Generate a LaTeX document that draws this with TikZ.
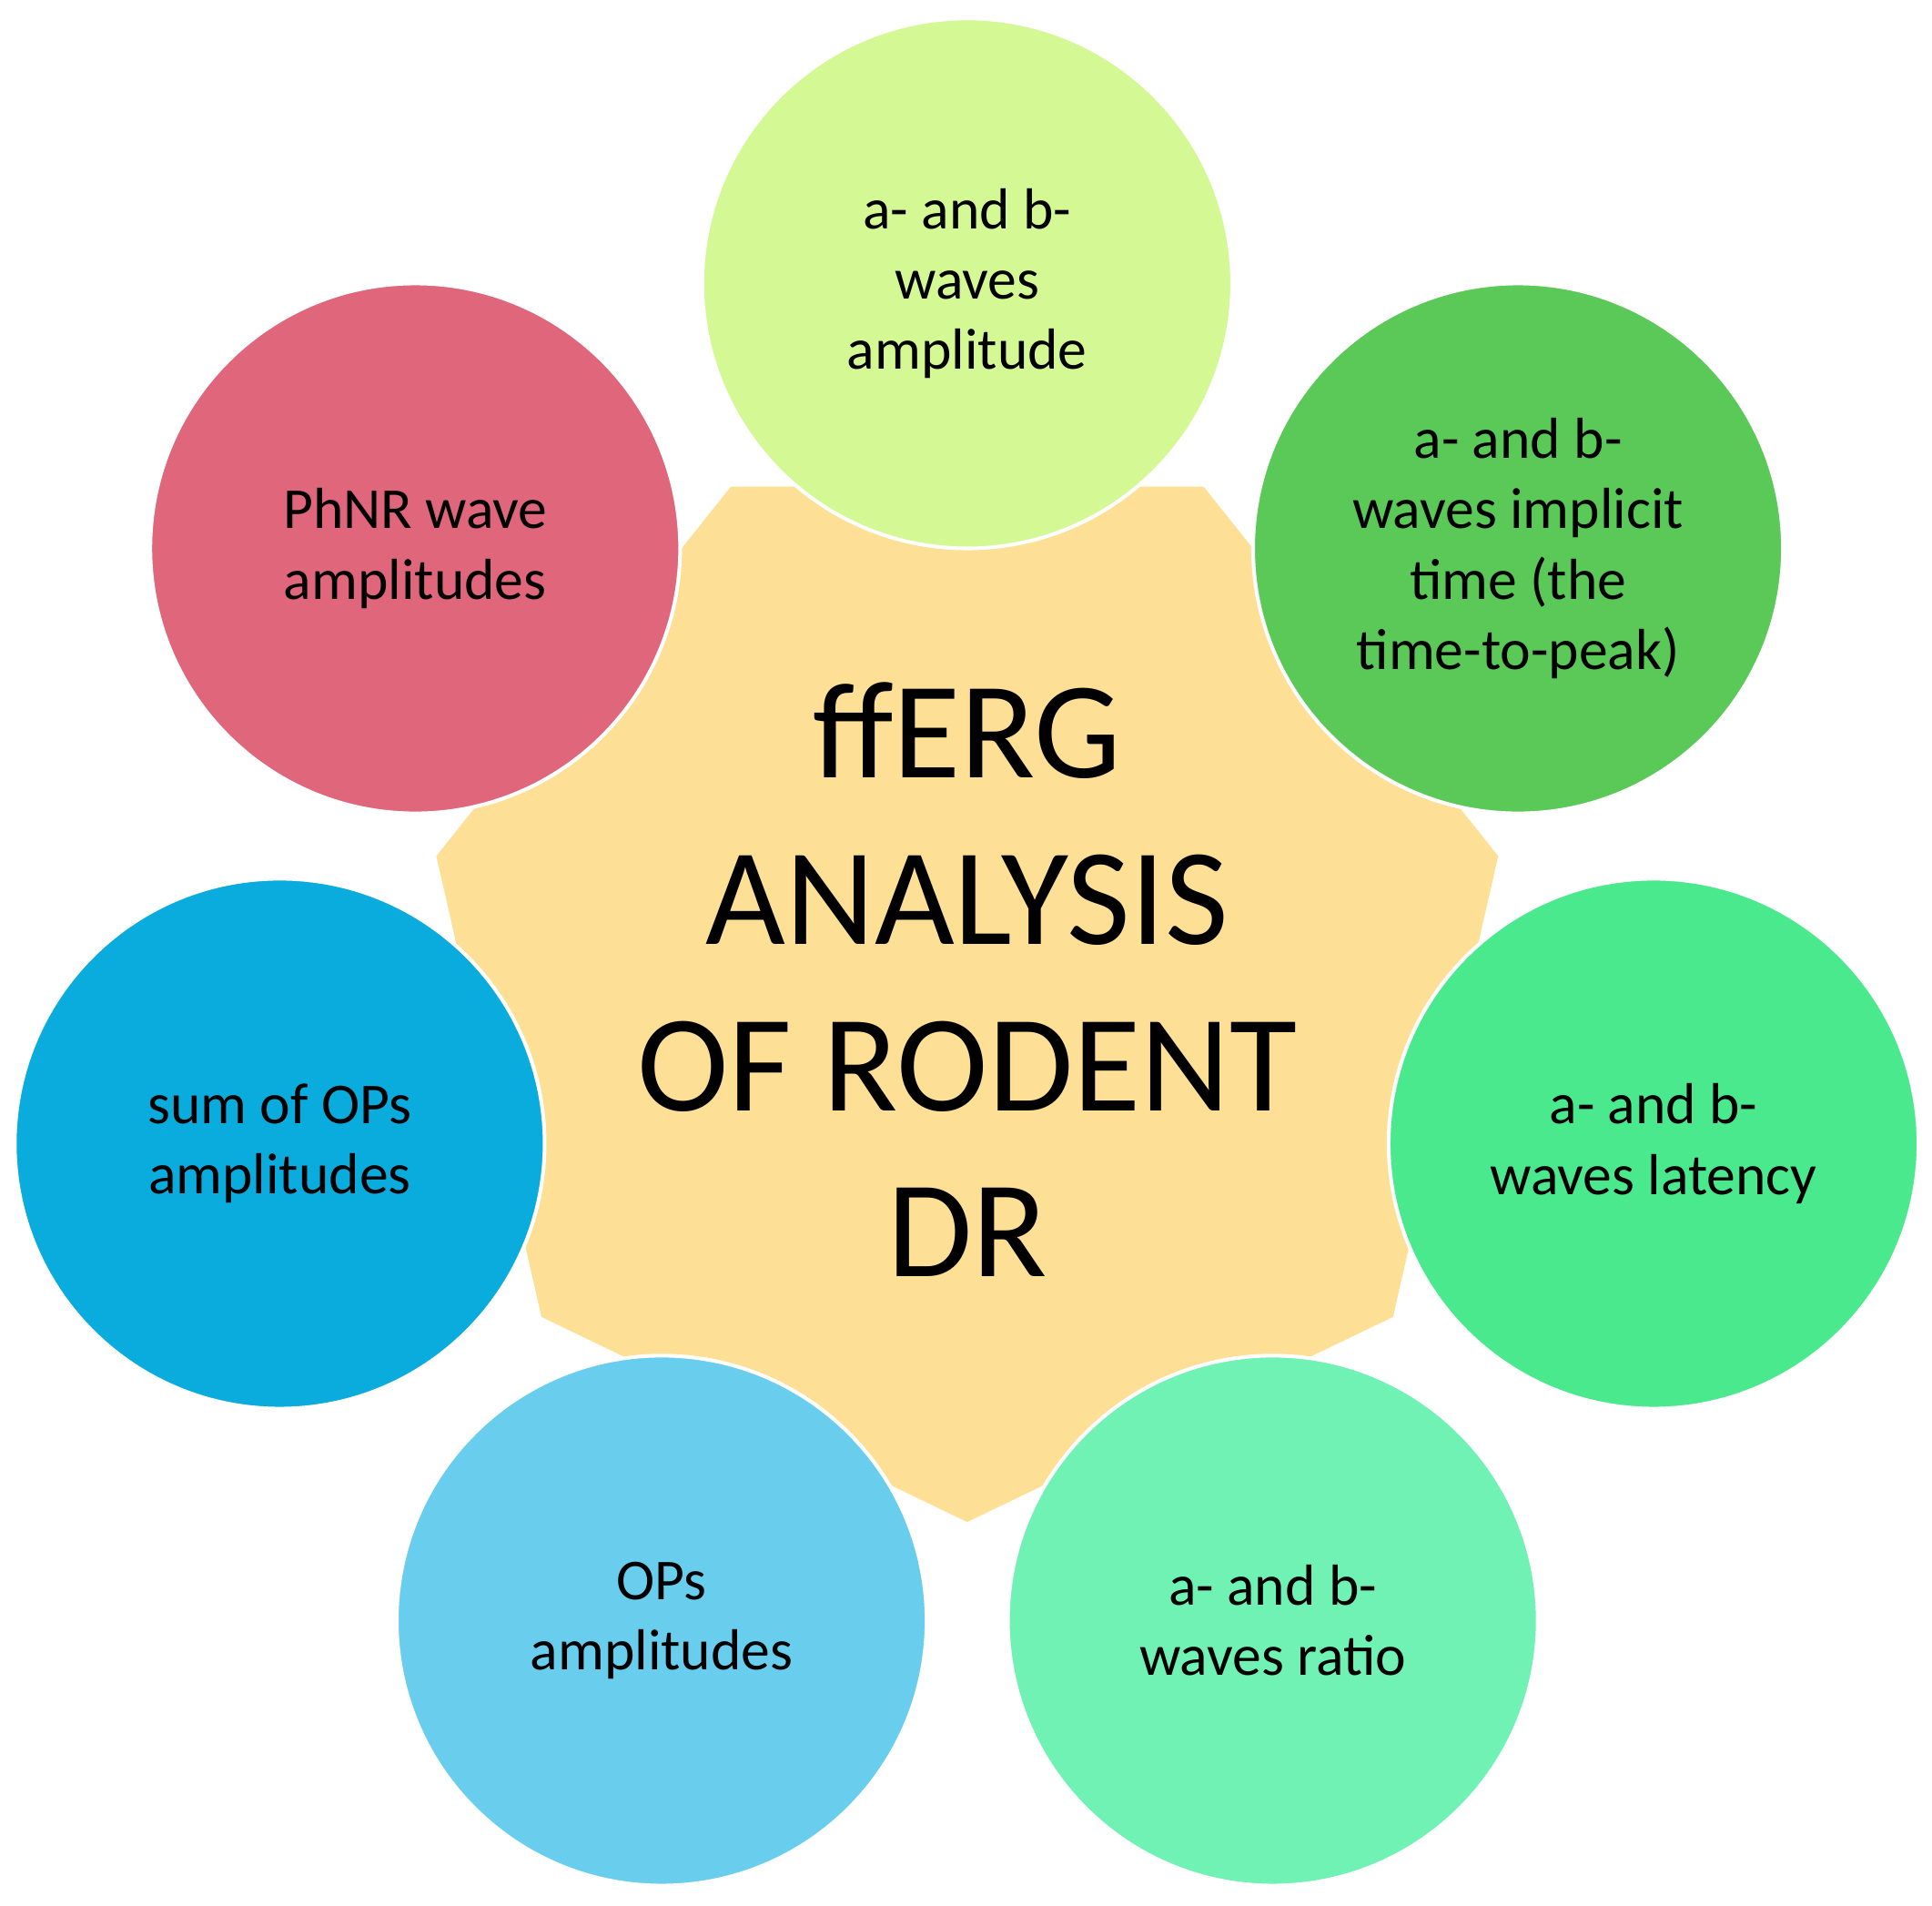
\documentclass[tikz,border=0pt]{standalone}
\usepackage{fontspec}
\setmainfont{Carlito}
\usetikzlibrary{calc}
\begin{document}
\begin{tikzpicture}[x=0.5pt,y=-0.5pt,
  bub/.style={circle,draw=white,line width=1.5pt,minimum size=215pt,inner sep=0pt,align=center,font=\fontsize{23.5}{28.5}\selectfont,text=black}]
\useasboundingbox (0,0) rectangle (1568,1546);
\definecolor{cA}{HTML}{D4F994}
\definecolor{cB}{HTML}{5AC957}
\definecolor{cC}{HTML}{4BE98E}
\definecolor{cD}{HTML}{6FF2B4}
\definecolor{cE}{HTML}{69CEEE}
\definecolor{cF}{HTML}{0AABDD}
\definecolor{cG}{HTML}{E0667C}
\definecolor{cH}{HTML}{FDDF96}
\coordinate (o) at (785,793);
\fill[cH] ($(o)+(90:442)$) \foreach \k in {1,...,6}{ -- ($(o)+(90+51.4286*\k:442)$)} -- cycle;
\node[bub,fill=cA] (a) at (785,230) {a- and b-\\waves\\amplitude};
\node[bub,fill=cB] (b) at (1232,445) {a- and b-\\waves implicit\\time (the\\time-to-peak)};
\node[bub,fill=cC] (c) at (1342,928) {a- and b-\\waves latency};
\node[bub,fill=cD] (d) at (1033,1315) {a- and b-\\waves ratio};
\node[bub,fill=cE] (e) at (537,1315) {OPs\\amplitudes};
\node[bub,fill=cF] (f) at (227,928) {sum of OPs\\amplitudes};
\node[bub,fill=cG] (g) at (337,445) {PhNR wave\\amplitudes};
\node[align=center,font=\fontsize{56}{67.5}\selectfont] (m) at (785,795) {ffERG\\ANALYSIS\\OF RODENT\\DR};
\end{tikzpicture}
\end{document}
